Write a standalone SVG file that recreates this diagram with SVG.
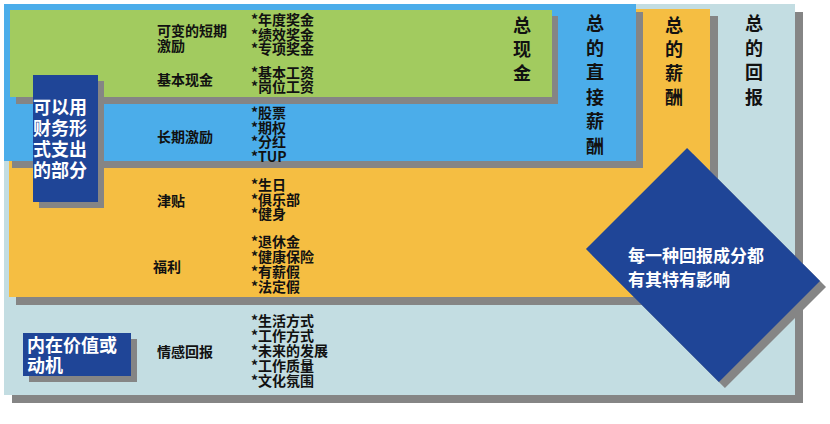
<svg xmlns="http://www.w3.org/2000/svg" width="830" height="424" viewBox="0 0 830 424">
<defs>
<style>
.sh{fill:#858585}
.t{font-family:"Noto Sans CJK SC","Noto Sans",sans-serif;font-weight:bold;font-size:14px;fill:#111}
.v{font-family:"Noto Sans CJK SC","Noto Sans",sans-serif;font-weight:bold;font-size:18px;fill:#111;text-anchor:middle}
.w{font-family:"Noto Sans CJK SC","Noto Sans",sans-serif;font-weight:bold;font-size:18px;fill:#fff}
</style>
</defs>
<rect width="830" height="424" fill="#fff"/>
<g id="total-reward">
<rect class="sh" x="12" y="12" width="791" height="391"/>
<rect x="4" y="4" width="791" height="391" fill="#c3dde2"/>
<text class="v" x="754"><tspan x="754" y="30">总</tspan><tspan x="754" y="54.5">的</tspan><tspan x="754" y="79">回</tspan><tspan x="754" y="103.5">报</tspan></text>
</g>
<g id="total-comp">
<rect class="sh" x="16" y="16" width="702" height="289"/>
<rect x="9" y="9" width="701" height="288" fill="#f5be42"/>
<text class="v" x="674"><tspan x="674" y="32">总</tspan><tspan x="674" y="56">的</tspan><tspan x="674" y="80">薪</tspan><tspan x="674" y="104">酬</tspan></text>
</g>
<g id="direct-comp">
<rect class="sh" x="12" y="12" width="631" height="156"/>
<rect x="4" y="4" width="632" height="157" fill="#4badea"/>
<text class="v" x="595"><tspan x="595" y="30">总</tspan><tspan x="595" y="54.5">的</tspan><tspan x="595" y="79">直</tspan><tspan x="595" y="103.5">接</tspan><tspan x="595" y="128">薪</tspan><tspan x="595" y="152.5">酬</tspan></text>
</g>
<g id="total-cash">
<rect class="sh" x="16" y="16" width="542" height="88"/>
<rect x="10" y="10" width="542" height="87" fill="#a2cb5f"/>
<text class="v" x="522"><tspan x="522" y="32">总</tspan><tspan x="522" y="56">现</tspan><tspan x="522" y="80">金</tspan></text>
</g>
<g id="items">
<text class="t"><tspan x="157" y="36">可变的短期</tspan><tspan x="157" y="51">激励</tspan></text>
<text class="t"><tspan x="251" y="25">*年度奖金</tspan><tspan x="251" y="39.5">*绩效奖金</tspan><tspan x="251" y="54">*专项奖金</tspan></text>
<text class="t" x="157" y="85">基本现金</text>
<text class="t"><tspan x="251" y="77.5">*基本工资</tspan><tspan x="251" y="92">*岗位工资</tspan></text>
<text class="t" x="157" y="142">长期激励</text>
<text class="t"><tspan x="251" y="118">*股票</tspan><tspan x="251" y="132.5">*期权</tspan><tspan x="251" y="147">*分红</tspan><tspan x="251" y="161.5">*TUP</tspan></text>
<text class="t" x="157" y="206">津贴</text>
<text class="t"><tspan x="251" y="190">*生日</tspan><tspan x="251" y="204.5">*俱乐部</tspan><tspan x="251" y="219">*健身</tspan></text>
<text class="t" x="153" y="272">福利</text>
<text class="t"><tspan x="251" y="247">*退休金</tspan><tspan x="251" y="262">*健康保险</tspan><tspan x="251" y="277">*有薪假</tspan><tspan x="251" y="292">*法定假</tspan></text>
<text class="t" x="157" y="357">情感回报</text>
<text class="t"><tspan x="251" y="326">*生活方式</tspan><tspan x="251" y="341">*工作方式</tspan><tspan x="251" y="356">*未来的发展</tspan><tspan x="251" y="371">*工作质量</tspan><tspan x="251" y="386">*文化氛围</tspan></text>
</g>
<g id="financial-box">
<rect class="sh" x="39" y="81" width="65" height="127"/>
<rect x="33" y="75" width="65" height="127" fill="#1f4597"/>
<text class="w"><tspan x="33" y="114">可以用</tspan><tspan x="33" y="135">财务形</tspan><tspan x="33" y="156">式支出</tspan><tspan x="33" y="177">的部分</tspan></text>
</g>
<g id="intrinsic-box">
<rect class="sh" x="29" y="339" width="108" height="43"/>
<rect x="23" y="333" width="108" height="43" fill="#1f4597"/>
<text class="w"><tspan x="27" y="352">内在价值或</tspan><tspan x="27" y="372">动机</tspan></text>
</g>
<g id="diamond">
<rect class="sh" x="-94" y="-71.5" width="188" height="143" transform="translate(709,271) rotate(45)"/>
<rect x="-94" y="-71.5" width="188" height="143" fill="#1f4597" transform="translate(703,265) rotate(45)"/>
<text class="w" style="font-size:17px"><tspan x="628" y="262">每一种回报成分都</tspan><tspan x="628" y="286">有其特有影响</tspan></text>
</g>
</svg>
